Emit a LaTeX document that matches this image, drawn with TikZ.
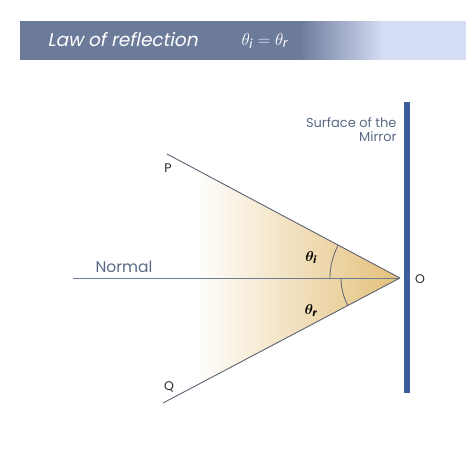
\documentclass[tikz,border=0pt]{standalone}
\usepackage{fontspec}
\setmainfont{Poppins}
\newfontfamily\titlefont[FakeSlant=0.2]{Poppins}
\usetikzlibrary{calc}
\definecolor{bannerdark}{HTML}{6D7B9B}
\definecolor{bannerlight}{HTML}{D6DEF5}
\definecolor{mirrorblue}{HTML}{3D5E96}
\definecolor{raygray}{HTML}{5C6272}
\definecolor{normalgray}{HTML}{6E7C92}
\definecolor{labelblue}{HTML}{5A6A85}
\definecolor{tan}{HTML}{E4C07A}
\tikzset{
  ray/.style={draw=raygray, line width=0.9pt},
  arcline/.style={draw=raygray, line width=0.8pt},
  ptlabel/.style={font=\fontsize{12.5}{13}\selectfont, text=black!85},
  anglabel/.style={font=\fontsize{14}{14}\selectfont\boldmath, text=black},
}
\begin{document}
\begin{tikzpicture}[x=1pt,y=1pt]
\useasboundingbox (0,0) rectangle (474,456);
% banner
\fill[bannerdark] (20,396) rectangle (301,435);
\foreach \i in {0,...,84}{
  \pgfmathsetmacro\p{\i/84*100}
  \fill[bannerlight!\p!bannerdark] (300+\i,396) rectangle (301.4+\i,435);
}
\fill[bannerlight] (385,396) rectangle (466,435);
\node[anchor=west, text=white, font=\titlefont\fontsize{18.5}{20}\selectfont] (title) at (44,416) {Law of reflection};
\node[anchor=west, text=white, font=\fontsize{18}{20}\selectfont] (law) at (238,415) {$\theta_{\mathit{i}}=\theta_{\mathit{r}}$};
% geometry
\coordinate (O) at (400,178);
\coordinate (P) at (167,302);
\coordinate (Q) at (163,53);
\coordinate (N) at (73,178);
% gradient fill
\begin{scope}
\clip (O) -- (P) -- (Q) -- cycle;
\foreach \i in {0,...,205}{
  \pgfmathsetmacro\p{\i/205*100}
  \fill[tan!\p!white] (195+\i,40) rectangle (196.5+\i,320);
}
\end{scope}
% rays
\draw[ray] (P) -- (O);
\draw[ray] (Q) -- (O);
\draw[draw=normalgray, line width=0.9pt] (N) -- (O);
% arcs
\draw[arcline] ($(O)+(-70,0)$) arc[start angle=180, end angle=152, radius=70];
\draw[arcline] ($(O)+(-59,0)$) arc[start angle=180, end angle=207.8, radius=59];
% mirror
\fill[mirrorblue] (404,63) rectangle (410,354);
% labels
\node[ptlabel] (Plab) at (168,288) {P};
\node[ptlabel] (Qlab) at (169,69) {Q};
\node[ptlabel] (Olab) at (420,177) {O};
\node[text=labelblue, font=\fontsize{15.5}{16}\selectfont] (normlab) at (124,189) {Normal};
\node[anchor=east, align=right, text=labelblue, font=\fontsize{13}{14}\selectfont] (surf) at (400,326) {Surface of the\\Mirror};
\node[anchor=base, anglabel] (thi) at (311,195) {$\theta_{\mathit{i}}$};
\node[anchor=base, anglabel] (thr) at (311,142) {$\theta_{\mathit{r}}$};
\end{tikzpicture}
\end{document}
